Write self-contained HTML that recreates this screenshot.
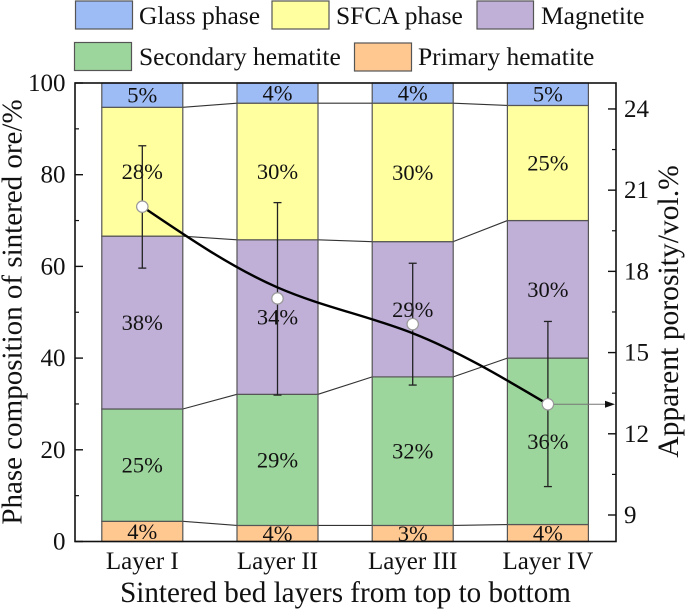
<!DOCTYPE html>
<html lang="en">
<head>
<meta charset="utf-8">
<title>Phase composition and porosity by sintered bed layer</title>
<style>
html,body{margin:0;padding:0;background:#fff;width:685px;height:609px;overflow:hidden}
svg{display:block}
text{font-family:"Liberation Serif",serif;fill:#111}
</style>
</head>
<body>
<svg id="chart" width="685" height="609" viewBox="0 0 685 609" xmlns="http://www.w3.org/2000/svg">
  <g>
    <rect x="75.5" y="1" width="57" height="28" fill="#9dbbf5" stroke="#555" stroke-width="1.2"/>
    <text x="139" y="24" font-size="25.5">Glass phase</text>
    <rect x="272" y="1" width="57" height="28" fill="#ffffa0" stroke="#555" stroke-width="1.2"/>
    <text x="336" y="24" font-size="25.5">SFCA phase</text>
    <rect x="477" y="1" width="56.5" height="28" fill="#c0b0d8" stroke="#555" stroke-width="1.2"/>
    <text x="541" y="24" font-size="25.5">Magnetite</text>
    <rect x="74.5" y="42.5" width="57" height="28" fill="#9dd69d" stroke="#555" stroke-width="1.2"/>
    <text x="139" y="65" font-size="25.5">Secondary hematite</text>
    <rect x="354.5" y="43" width="57" height="28" fill="#ffc890" stroke="#555" stroke-width="1.2"/>
    <text x="418" y="65" font-size="25.5">Primary hematite</text>
  </g>
  <text x="345.5" y="602" font-size="29.1" text-anchor="middle">Sintered bed layers from top to bottom</text>
  <text transform="translate(21.5,312) rotate(-90)" font-size="29" text-anchor="middle">Phase composition of sintered ore/%</text>
  <text transform="translate(678,311.5) rotate(-90)" font-size="29.6" text-anchor="middle">Apparent porosity/vol.%</text>
</svg>
<script>
var categories = ['Layer I', 'Layer II', 'Layer III', 'Layer IV'];
var primaryHematite = [4.4, 3.5, 3.5, 3.7];
var secondaryHematite = [24.5, 28.6, 32.4, 36.3];
var magnetite = [37.7, 33.7, 29.5, 30.0];
var sfcaPhase = [28.1, 29.8, 30.2, 25.1];
var glassPhase = [5.3, 4.4, 4.4, 4.9];
var primaryLabels = ['4%', '4%', '3%', '4%'];
var secondaryLabels = ['25%', '29%', '32%', '36%'];
var magnetiteLabels = ['38%', '34%', '29%', '30%'];
var sfcaLabels = ['28%', '30%', '30%', '25%'];
var glassLabels = ['5%', '4%', '4%', '5%'];
var porosity = [20.39, 17.0, 16.05, 13.09];
var porosityHigh = [22.64, 20.54, 18.3, 16.15];
var porosityLow = [18.12, 13.43, 13.8, 10.05];
var leftTickLabels = [0, 20, 40, 60, 80, 100];
var leftMinorTicks = [10, 30, 50, 70, 90];
var rightTickLabels = [9, 12, 15, 18, 21, 24];
var rightMinorTicks = [10.5, 13.5, 16.5, 19.5, 22.5];

var svg = document.getElementById('chart');
var NS = 'http://www.w3.org/2000/svg';
var plot = {left: 75, right: 616, top: 83, bottom: 541.5};

function yLeft(v) { return plot.bottom - (v / 100) * (plot.bottom - plot.top); }
function yRight(v) { return 515 - (v - 9) * 27.07; }
function xCat(i) { return 142.3 + i * 135.2; }
var barWidth = 81;

function make(tag, attrs, parent) {
  var el = document.createElementNS(NS, tag);
  for (var k in attrs) { el.setAttribute(k, attrs[k]); }
  (parent || svg).appendChild(el);
  return el;
}

var stacks = [
  {key: 'primary-hematite', values: primaryHematite, labels: primaryLabels, fill: '#ffc890'},
  {key: 'secondary-hematite', values: secondaryHematite, labels: secondaryLabels, fill: '#9dd69d'},
  {key: 'magnetite', values: magnetite, labels: magnetiteLabels, fill: '#c0b0d8'},
  {key: 'sfca-phase', values: sfcaPhase, labels: sfcaLabels, fill: '#ffffa0'},
  {key: 'glass-phase', values: glassPhase, labels: glassLabels, fill: '#9dbbf5'}
];

var cumulative = categories.map(function () { return 0; });
var labelQueue = [];

stacks.forEach(function (s) {
  var tops = [];
  categories.forEach(function (c, i) {
    var base = cumulative[i];
    var top = base + s.values[i];
    tops.push(top);
    var rect = make('rect', {
      x: xCat(i) - barWidth / 2, y: yLeft(top), width: barWidth,
      height: yLeft(base) - yLeft(top), fill: s.fill, stroke: '#555', 'stroke-width': 1.2
    });
    
    
    labelQueue.push({text: s.labels[i], x: xCat(i), y: (yLeft(base) + yLeft(top)) / 2, key: s.key, i: i});
    cumulative[i] = top;
  });
  if (s.key !== 'glass-phase') {
    for (var i = 0; i < categories.length - 1; i++) {
      var link = make('line', {
        x1: xCat(i) + barWidth / 2, y1: yLeft(tops[i]),
        x2: xCat(i + 1) - barWidth / 2, y2: yLeft(tops[i + 1]),
        stroke: '#333', 'stroke-width': 1.1
      });
      
      
    }
  }
});

labelQueue.forEach(function (l) {
  var t = make('text', {x: l.x, y: l.y + 7.5, 'font-size': 22.5, 'text-anchor': 'middle'});
  t.textContent = l.text;
  
  
});

/* error bars */
categories.forEach(function (c, i) {
  var x = xCat(i);
  var stem = make('line', {x1: x, x2: x, y1: yRight(porosityHigh[i]), y2: yRight(porosityLow[i]), stroke: '#222', 'stroke-width': 1.3});
  
  
  [porosityHigh[i], porosityLow[i]].forEach(function (v, j) {
    var cap = make('line', {x1: x - 4, x2: x + 4, y1: yRight(v), y2: yRight(v), stroke: '#222', 'stroke-width': 1.3});
    
    
  });
});

/* smoothed porosity curve: clamped uniform cubic B-spline over the data points */
function splinePath() {
  var n = porosity.length;
  var px = porosity.map(function (v, i) { return xCat(i); });
  var py = porosity.map(function (v) { return yRight(v); });
  function knot(a, i) {
    if (i === 0 || i === n - 1) { return a[i]; }
    return (a[i - 1] + 4 * a[i] + a[i + 1]) / 6;
  }
  var d = 'M' + knot(px, 0) + ' ' + knot(py, 0);
  for (var i = 0; i < n - 1; i++) {
    d += ' C' + (2 * px[i] + px[i + 1]) / 3 + ' ' + (2 * py[i] + py[i + 1]) / 3 +
         ' ' + (px[i] + 2 * px[i + 1]) / 3 + ' ' + (py[i] + 2 * py[i + 1]) / 3 +
         ' ' + knot(px, i + 1) + ' ' + knot(py, i + 1);
  }
  return d;
}
var curve = make('path', {d: splinePath(), fill: 'none', stroke: '#000', 'stroke-width': 2.4});



/* arrow pointing to the right axis */
var lastIndex = porosity.length - 1;
var arrowY = yRight(porosity[lastIndex]);
var arrowLine = make('line', {x1: xCat(lastIndex), x2: 606, y1: arrowY, y2: arrowY, stroke: '#777', 'stroke-width': 1});


var arrowHead = make('path', {d: 'M605 ' + (arrowY - 3.5) + ' L615 ' + arrowY + ' L605 ' + (arrowY + 3.5) + ' Z', fill: '#111'});



/* markers */
porosity.forEach(function (v, i) {
  var m = make('circle', {cx: xCat(i), cy: yRight(v), r: 5.7, fill: '#fff', stroke: '#999', 'stroke-width': 1.2});
  
  
});

/* plot frame */
var frame = make('rect', {x: plot.left, y: plot.top, width: plot.right - plot.left, height: plot.bottom - plot.top, fill: 'none', stroke: '#111', 'stroke-width': 1.6});



/* left axis */
leftTickLabels.forEach(function (v) {
  var tick = make('line', {x1: plot.left, x2: plot.left + 8, y1: yLeft(v), y2: yLeft(v), stroke: '#111', 'stroke-width': 1.4});
  
  
  var t = make('text', {x: 65.5, y: yLeft(v) + 8, 'font-size': 25, 'text-anchor': 'end'});
  t.textContent = v;
  
  
});
leftMinorTicks.forEach(function (v) {
  var tick = make('line', {x1: plot.left, x2: plot.left + 4, y1: yLeft(v), y2: yLeft(v), stroke: '#111', 'stroke-width': 1.2});
  
  
});

/* right axis */
rightTickLabels.forEach(function (v) {
  var tick = make('line', {x1: plot.right - 8, x2: plot.right, y1: yRight(v), y2: yRight(v), stroke: '#111', 'stroke-width': 1.4});
  
  
  var t = make('text', {x: 624, y: yRight(v) + 8, 'font-size': 25});
  t.textContent = v;
  
  
});
rightMinorTicks.forEach(function (v) {
  var tick = make('line', {x1: plot.right - 4, x2: plot.right, y1: yRight(v), y2: yRight(v), stroke: '#111', 'stroke-width': 1.2});
  
  
});

/* category labels */
categories.forEach(function (c, i) {
  var t = make('text', {x: xCat(i), y: 569, 'font-size': 25, 'text-anchor': 'middle'});
  t.textContent = c;
  
  
});
</script>
</body>
</html>
